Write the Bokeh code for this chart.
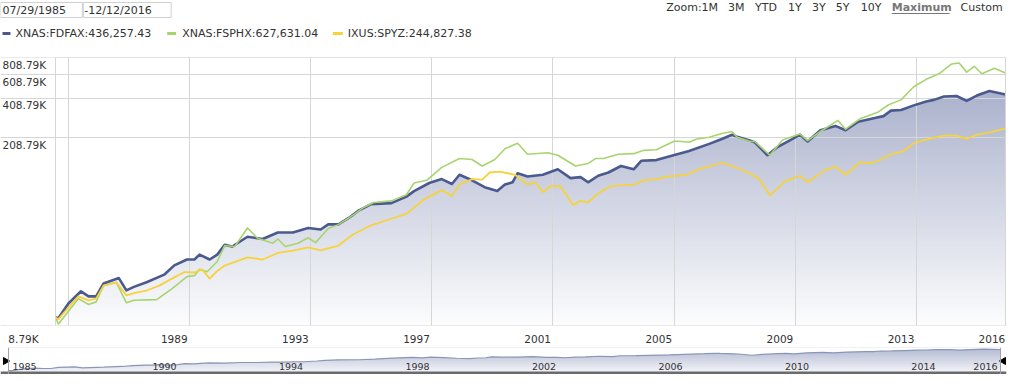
import numpy as np
import pandas as pd
from bokeh.plotting import figure
from bokeh.models import Range1d, FixedTicker, Span, Label, BoxAnnotation, DatetimeTickFormatter
from bokeh.layouts import column
from bokeh.embed import file_html
from bokeh.resources import INLINE
from bokeh.core.properties import value

FONT = "DejaVu Sans"
TEXT = "#333333"

# ---------------- data ----------------
fdfax_dates = ["1985-07-29", "1985-09-01", "1986-01-01", "1986-06-01", "1986-09-01", "1986-12-01",
               "1987-03-01", "1987-09-01", "1987-12-01", "1988-03-01", "1988-08-01", "1989-03-01",
               "1989-07-01", "1989-12-01", "1990-03-01", "1990-05-01", "1990-09-01", "1990-12-01",
               "1991-03-01", "1991-06-01", "1991-12-01", "1992-06-01", "1992-12-01", "1993-06-01",
               "1993-12-01", "1994-05-01", "1994-08-01", "1994-12-01", "1995-05-01", "1995-08-01",
               "1996-01-01", "1996-09-01", "1997-03-01", "1997-06-01", "1997-12-01", "1998-05-01",
               "1998-09-01", "1998-12-01", "1999-05-01", "1999-10-01", "2000-03-01", "2000-06-01",
               "2000-09-01", "2000-11-01", "2001-03-01", "2001-09-01", "2002-03-01", "2002-08-01",
               "2002-12-01", "2003-03-01", "2003-07-01", "2003-11-01", "2004-04-01", "2004-09-01",
               "2004-12-01", "2005-06-01", "2005-11-01", "2006-07-01", "2007-03-01", "2007-08-01",
               "2007-12-01", "2008-02-01", "2008-07-01", "2008-09-01", "2009-02-01", "2009-06-01",
               "2009-12-01", "2010-03-01", "2010-06-01", "2010-11-01", "2011-05-01", "2011-09-01",
               "2012-02-01", "2012-09-01", "2012-12-01", "2013-03-01", "2013-07-01", "2013-12-01",
               "2014-05-01", "2014-08-01", "2014-12-01", "2015-05-01", "2015-09-01", "2016-01-01",
               "2016-06-01", "2016-12-12"]
fdfax_values = [10000, 9870, 12650, 15560, 14280, 14280,
                17770, 19460, 15820, 16770, 18120, 20620,
                24130, 26650, 26650, 28950, 26650, 28950,
                34160, 33210, 39190, 37730, 42150, 42150,
                45490, 44300, 48360, 48360, 55210, 60970,
                68120, 69260, 77260, 84900, 97400, 104000,
                95800, 111900, 101900, 90700, 84900, 94850,
                98550, 114900, 108800, 111900, 122800, 105800,
                107500, 98550, 110100, 116300, 129900, 122800,
                141800, 143500, 152800, 167300, 188800, 205200,
                220600, 213500, 199700, 194200, 155800, 178800,
                205200, 220600, 196500, 238100, 256100, 238100,
                275000, 293800, 302200, 331600, 335500, 362500,
                387300, 397800, 420800, 425000, 391200, 427800,
                461600, 436257.43]

fsphx_dates = ["1985-07-29", "1985-09-01", "1986-05-01", "1986-09-01", "1986-12-01", "1987-03-01",
               "1987-08-01", "1987-12-01", "1988-03-01", "1988-12-01", "1989-06-01", "1989-12-01",
               "1990-03-01", "1990-05-01", "1990-08-01", "1990-12-01", "1991-03-01", "1991-07-01",
               "1991-12-01", "1992-04-01", "1992-10-01", "1992-12-01", "1993-03-01", "1993-08-01",
               "1993-12-01", "1994-03-01", "1994-08-01", "1994-12-01", "1995-06-01", "1995-10-01",
               "1996-02-01", "1996-09-01", "1997-03-01", "1997-06-01", "1997-11-01", "1998-05-01",
               "1998-12-01", "1999-05-01", "1999-09-01", "2000-02-01", "2000-06-01", "2000-11-01",
               "2001-03-01", "2001-11-01", "2002-03-01", "2002-10-01", "2003-03-01", "2003-06-01",
               "2003-09-01", "2004-03-01", "2004-09-01", "2005-01-01", "2005-06-01", "2006-01-01",
               "2006-03-01", "2006-07-01", "2006-10-01", "2007-03-01", "2007-08-01", "2007-12-01",
               "2008-02-01", "2008-07-01", "2008-09-01", "2009-03-01", "2009-08-01", "2010-03-01",
               "2010-06-01", "2010-11-01", "2011-06-01", "2011-09-01", "2012-03-01", "2012-10-01",
               "2013-02-01", "2013-07-01", "2013-12-01", "2014-05-01", "2014-10-01", "2015-03-01",
               "2015-06-01", "2015-09-01", "2015-12-01", "2016-03-01", "2016-08-01", "2016-12-12"]
fsphx_values = [10000, 8940, 13740, 12440, 13010, 17130,
                18120, 12800, 13360, 13510, 16220, 19950,
                20280, 22580, 21670, 25780, 33770, 33210,
                45490, 38170, 35130, 37730, 33210, 35130,
                38550, 35490, 45040, 48120, 56780, 64400,
                69960, 71950, 79860, 97400, 101900, 126900,
                147300, 144900, 129900, 144900, 173800, 191000,
                158400, 162700, 155800, 129900, 135600, 147300,
                147300, 158400, 160000, 169300, 171000, 197400,
                197400, 194200, 205200, 211000, 225400, 233000,
                211000, 197400, 196500, 155800, 201800, 222800,
                199700, 233000, 281000, 242100, 290400, 324500,
                366200, 397800, 496600, 563100, 618800, 730200,
                742400, 636500, 702900, 618800, 680000, 627631.04]

spyz_dates = ["1985-07-29", "1985-09-01", "1986-05-01", "1986-09-01", "1986-12-01", "1987-03-01",
              "1987-08-01", "1987-12-01", "1988-03-01", "1988-08-01", "1989-01-01", "1989-07-01",
              "1989-11-01", "1990-03-01", "1990-06-01", "1990-09-01", "1990-12-01", "1991-03-01",
              "1991-12-01", "1992-06-01", "1992-12-01", "1993-06-01", "1993-12-01", "1994-05-01",
              "1994-12-01", "1995-06-01", "1996-01-01", "1996-09-01", "1997-03-01", "1997-10-01",
              "1998-05-01", "1998-09-01", "1998-12-01", "1999-05-01", "1999-09-01", "1999-12-01",
              "2000-04-01", "2000-10-01", "2001-03-01", "2001-06-01", "2001-09-01", "2001-12-01",
              "2002-04-01", "2002-09-01", "2002-12-01", "2003-03-01", "2003-07-01", "2003-12-01",
              "2004-05-01", "2004-09-01", "2005-01-01", "2005-06-01", "2005-11-01", "2006-06-01",
              "2006-12-01", "2007-08-01", "2007-12-01", "2008-07-01", "2008-11-01", "2009-03-01",
              "2009-09-01", "2010-03-01", "2010-06-01", "2011-01-01", "2011-05-01", "2011-09-01",
              "2012-03-01", "2012-07-01", "2012-11-01", "2013-03-01", "2013-08-01", "2013-12-01",
              "2014-06-01", "2014-12-01", "2015-05-01", "2015-09-01", "2016-01-01", "2016-06-01",
              "2016-12-12"]
spyz_values = [10000, 9710, 14280, 13360, 13740, 17130,
               18120, 14520, 15100, 15770, 17130, 19690,
               21560, 21400, 22580, 19300, 21950, 24050,
               27680, 26650, 29780, 30930, 32670, 31090,
               33770, 40850, 47570, 53140, 57730, 74000,
               86300, 78160, 94850, 104100, 103100, 116300,
               118200, 111900, 94850, 98550, 83500, 92220,
               92220, 67000, 71950, 69960, 81730, 92220,
               93770, 94850, 101900, 104000, 108800, 111900,
               124800, 137200, 129900, 114900, 103100, 79070,
               100200, 110100, 98550, 121600, 128400, 111900,
               139500, 135600, 144900, 158400, 167300, 191000,
               205200, 217000, 217000, 205200, 220600, 229200,
               244827.38]

series_names = ["XNAS:FDFAX", "XNAS:FSPHX", "IXUS:SPYZ"]
series_last = ["436,257.43", "627,631.04", "244,827.38"]
series_colors = ["#4b5a8e", "#a8d46f", "#f6d23c"]

y_tick_values = [8790, 208790, 408790, 608790, 808790]
y_tick_labels = ["8.79K", "208.79K", "408.79K", "608.79K", "808.79K"]
x_label_years = [1989, 1993, 1997, 2001, 2005, 2009, 2013, 2016]
x_grid_years = [1986, 1990, 1994, 1998, 2002, 2006, 2010, 2014]
nav_label_years = [1990, 1994, 1998, 2002, 2006, 2010, 2014]
range_from_text = "07/29/1985"
range_to_text = "12/12/2016"
zoom_buttons = ["Zoom:1M", "3M", "YTD", "1Y", "3Y", "5Y", "10Y", "Maximum", "Custom"]
zoom_selected = "Maximum"

# ---------------- helpers ----------------
def ms(ts):
    return pd.Timestamp(ts).value / 1e6

fd_x = pd.to_datetime(fdfax_dates)
fs_x = pd.to_datetime(fsphx_dates)
sp_x = pd.to_datetime(spyz_dates)
t0 = ms(fd_x[0])
t1 = ms(fd_x[-1])


def gradient(top_rgb, bottom_rgb, n=120):
    frac = np.linspace(0.0, 1.0, n)[:, None]
    top = np.array(top_rgb, dtype=float)
    bot = np.array(bottom_rgb, dtype=float)
    cols = bot + (top - bot) * frac
    img = np.zeros((n, 2), dtype=np.uint32)
    view = img.view(dtype=np.uint8).reshape((n, 2, 4))
    view[:, :, 0] = cols[:, 0:1].astype(np.uint8)
    view[:, :, 1] = cols[:, 1:2].astype(np.uint8)
    view[:, :, 2] = cols[:, 2:3].astype(np.uint8)
    view[:, :, 3] = 255
    return img

W = 1008

# ---------------- header ----------------
HDR_H = 55
hdr = figure(width=W, height=HDR_H, x_range=Range1d(0, W), y_range=Range1d(HDR_H, 0),
             toolbar_location=None, output_backend="svg", x_axis_location=None,
             y_axis_location=None, min_border=0, outline_line_color=None)
hdr.grid.visible = False
hdr.quad(left=[0, 83], right=[82, 171], top=[2, 2], bottom=[17, 17],
         fill_color="white", line_color="#d0d0d0", line_width=1)
hdr.text(x=[2, 84], y=[9.5, 9.5], text=[range_from_text, "-" + range_to_text],
         text_font=value(FONT), text_font_size=value("11px"), text_color=TEXT,
         text_baseline="middle", text_align="left")

leg_x0 = [2, 167, 333]
leg_x1 = [10, 176, 343]
leg_tx = [15, 182, 348]
hdr.segment(x0=leg_x0, y0=[33] * 3, x1=leg_x1, y1=[33] * 3, line_color=series_colors, line_width=3)
hdr.text(x=leg_tx, y=[33] * 3, text=[f"{n}:{v}" for n, v in zip(series_names, series_last)],
         text_font=value(FONT), text_font_size=value("11px"), text_color=TEXT,
         text_baseline="middle", text_align="left")

zoom_x = [667, 729, 756, 789, 813, 837, 862, 893, 962]
plain = [(x, t) for x, t in zip(zoom_x, zoom_buttons) if t != zoom_selected]
sel = [(x, t) for x, t in zip(zoom_x, zoom_buttons) if t == zoom_selected]
hdr.text(x=[a for a, _ in plain], y=[7] * len(plain), text=[b for _, b in plain],
         text_font=value(FONT), text_font_size=value("11px"), text_color=TEXT,
         text_baseline="middle", text_align="left")
hdr.text(x=[a for a, _ in sel], y=[7] * len(sel), text=[b for _, b in sel],
         text_font=value(FONT), text_font_size=value("11px"), text_color="#777777",
         text_font_style="bold", text_baseline="middle", text_align="left")
hdr.segment(x0=[sel[0][0]], y0=[13], x1=[sel[0][0] + 58], y1=[13], line_color="#777777", line_width=1)

# ---------------- main chart ----------------
MAIN_H = 292
FRAME_W = 1006
LEFT_PAD = 55
RIGHT_PAD = 1
mpp = (t1 - t0) / (FRAME_W - LEFT_PAD - RIGHT_PAD)
x_range = Range1d(t0 - LEFT_PAD * mpp, t1 + RIGHT_PAD * mpp)
y_range = Range1d(y_tick_values[0] / 1.008, y_tick_values[-1] * 1.008)

p = figure(width=W, height=MAIN_H, x_axis_type="datetime", y_axis_type="log",
           x_range=x_range, y_range=y_range, y_axis_location=None,
           toolbar_location=None, output_backend="svg",
           min_border=0, min_border_top=2, min_border_right=W - FRAME_W, min_border_bottom=20,
           outline_line_color=None, background_fill_color="white", border_fill_color="white")

gr = p.image_rgba(image=[gradient((160, 168, 198), (253, 253, 254))], x=t0, y=y_range.start,
                  dw=t1 - t0, dh=y_range.end - y_range.start)
gr.level = "image"
mask = p.varea(x=fd_x, y1=fdfax_values, y2=y_range.end, fill_color="white", fill_alpha=1.0)
mask.level = "image"

p.xgrid.ticker = FixedTicker(ticks=[ms(f"{y}-01-01") for y in x_grid_years])
p.xgrid.grid_line_color = "#d6d6d6"
p.ygrid.ticker = FixedTicker(ticks=y_tick_values)
p.ygrid.grid_line_color = "#d6d6d6"
for loc in (t0, t1):
    p.add_layout(Span(location=loc, dimension="height", line_color="#d6d6d6", line_width=1))

p.line(fd_x, fdfax_values, line_color=series_colors[0], line_width=2.6, line_join="round")
p.line(fs_x, fsphx_values, line_color=series_colors[1], line_width=1.6, line_join="round")
p.line(sp_x, spyz_values, line_color=series_colors[2], line_width=1.8, line_join="round")

# x axis: year labels; the lowest y-axis value label sits in the same row at the far left
bottom_label_pos = int(round(x_range.start + 23 * mpp))
year_ticks = [int(ms(f"{y}-07-01")) for y in x_label_years]
xa = p.xaxis[0]
xa.ticker = FixedTicker(ticks=[bottom_label_pos] + year_ticks)
xa.formatter = DatetimeTickFormatter(years="%Y", months="%Y", days="%Y", hours="%Y",
                                     hourmin="%Y", minutes="%Y", minsec="%Y", seconds="%Y",
                                     milliseconds="%Y", microseconds="%Y")
xa.major_label_overrides = {bottom_label_pos: y_tick_labels[0]}
xa.axis_line_color = None
xa.major_tick_line_color = None
xa.minor_tick_line_color = None
xa.major_tick_out = 0
xa.major_tick_in = 0
xa.major_label_standoff = 7
xa.major_label_text_font = FONT
xa.major_label_text_font_size = "10.5px"
xa.major_label_text_color = TEXT

for v, s in zip(y_tick_values[1:], y_tick_labels[1:]):
    p.add_layout(Label(x=2, x_units="screen", y=v, y_units="data", text=s,
                       text_baseline="top", y_offset=-1, text_font=FONT,
                       text_font_size="10.5px", text_color=TEXT))

# ---------------- navigator ----------------
NAV_H = 27
NAV_LEFT = 8
NAV_RIGHT = 6
nmpp = (t1 - t0) / (W - NAV_LEFT - NAV_RIGHT)
nav_y = Range1d(4870, 625000)
nav = figure(width=W, height=NAV_H, x_axis_type="datetime", y_axis_type="log",
             x_range=Range1d(t0 - NAV_LEFT * nmpp, t1 + NAV_RIGHT * nmpp), y_range=nav_y,
             x_axis_location=None, y_axis_location=None, toolbar_location=None,
             output_backend="svg", min_border=0,
             outline_line_color=None, background_fill_color="white", border_fill_color="white")
nav.grid.visible = False
ng = nav.image_rgba(image=[gradient((178, 185, 210), (250, 250, 252))], x=t0, y=nav_y.start,
                    dw=t1 - t0, dh=nav_y.end - nav_y.start)
ng.level = "image"
nm = nav.varea(x=fd_x, y1=fdfax_values, y2=nav_y.end, fill_color="white", fill_alpha=1.0)
nm.level = "image"
nav.line(fd_x, fdfax_values, line_color="#8a95b9", line_width=1.2)
nav.add_layout(BoxAnnotation(bottom=0, top=3, bottom_units="screen", top_units="screen",
                             fill_color="#6b6b6b", fill_alpha=1.0, line_color=None))
for loc in (t0, t1):
    nav.add_layout(Span(location=loc, dimension="height", line_color="#a0a0a0", line_width=1))
ymid = float(np.sqrt(nav_y.start * nav_y.end))
nav.scatter(x=[t0 - 3 * nmpp, t1 + 3 * nmpp], y=[ymid, ymid], marker="triangle",
            angle=[-np.pi / 2, np.pi / 2], size=7, fill_color="black", line_color="black")

nav.add_layout(Label(x=t0, y=5, y_units="screen", x_offset=4, text=str(fd_x[0].year),
                     text_baseline="bottom", text_font=FONT, text_font_size="9.5px", text_color=TEXT))
for yr in nav_label_years:
    nav.add_layout(Label(x=ms(f"{yr}-01-01"), y=5, y_units="screen", x_offset=4, text=str(yr),
                         text_baseline="bottom", text_font=FONT, text_font_size="9.5px",
                         text_color=TEXT))
nav.add_layout(Label(x=t1, y=5, y_units="screen", x_offset=-3, text=str(fd_x[-1].year),
                     text_align="right", text_baseline="bottom", text_font=FONT,
                     text_font_size="9.5px", text_color=TEXT))

layout = column(hdr, p, nav, spacing=0)
open("out.html", "w").write(file_html(layout, INLINE))
